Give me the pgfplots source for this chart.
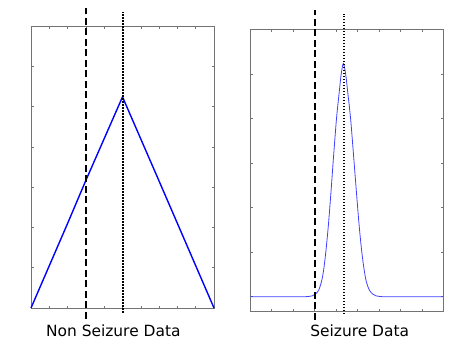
\documentclass[border=0pt]{standalone}
\usepackage{fontspec}
\setmainfont{DejaVu Sans}
\usepackage{pgfplots}
\pgfplotsset{compat=1.18}
\begin{document}
\begin{tikzpicture}[x=1bp,y=1bp]
\useasboundingbox (0,0) rectangle (474,355);
\pgfplotsset{panel/.style={anchor=south west, scale only axis,
  xticklabels={}, yticklabels={}, tick align=inside, tick pos=both,
  major tick length=2.5bp, axis line style={black!55, line width=0.8bp},
  every tick/.style={black!55, line width=0.6bp}, clip=false}}
\begin{axis}[panel, at={(31bp,47bp)}, width=183bp, height=282bp,
  xmin=0, xmax=10, ymin=0, ymax=7, xtick={0,...,10}, ytick={0,...,7}]
\addplot[blue, line width=1.4bp] coordinates {(0,0) (2,2.1) (3,3.17) (5,5.24) (7,3.15) (10,0)};
\addplot[black, line width=2bp, dash pattern=on 7bp off 3.5bp] coordinates {(3,-0.27) (3,7.44)};
\addplot[black, line width=2bp, dash pattern=on 1.4bp off 1.6bp] coordinates {(5,-0.12) (5,7.34)};
\end{axis}
\begin{axis}[panel, at={(250.3bp,43.3bp)}, width=193bp, height=282.4bp,
  xmin=0, xmax=9, ymin=-0.336, ymax=6, xtick={0,...,9}, ytick={0,...,6}]
\addplot[blue!75, line width=0.8bp, smooth, tension=0.5] coordinates {(0,0) (2.3,0) (2.64,0.003) (2.89,0.02) (3.04,0.06) (3.19,0.15) (3.32,0.34) (3.42,0.6) (3.52,1.0) (3.64,1.6) (3.77,2.4) (3.89,3.2) (4.02,4.0) (4.14,4.56) (4.24,5.0) (4.34,5.23) (4.445,5.0) (4.55,4.56) (4.676,4.0) (4.81,3.2) (4.94,2.4) (5.075,1.6) (5.20,1.0) (5.31,0.6) (5.41,0.34) (5.55,0.15) (5.71,0.06) (5.86,0.02) (6.12,0.003) (6.4,0) (9,0)};
\addplot[black, line width=2bp, dash pattern=on 7bp off 3.5bp] coordinates {(3,-0.52) (3,6.44)};
\addplot[black, line width=2bp, dash pattern=on 1.4bp off 1.6bp] coordinates {(4.37,-0.39) (4.37,6.35)};
\end{axis}
\node[inner sep=0, font=\fontsize{15.5}{18}\selectfont] at (113.3,24.2) {Non Seizure Data};
\node[inner sep=0, font=\fontsize{15.5}{18}\selectfont] at (359.7,24.2) {Seizure Data};
\end{tikzpicture}
\end{document}
